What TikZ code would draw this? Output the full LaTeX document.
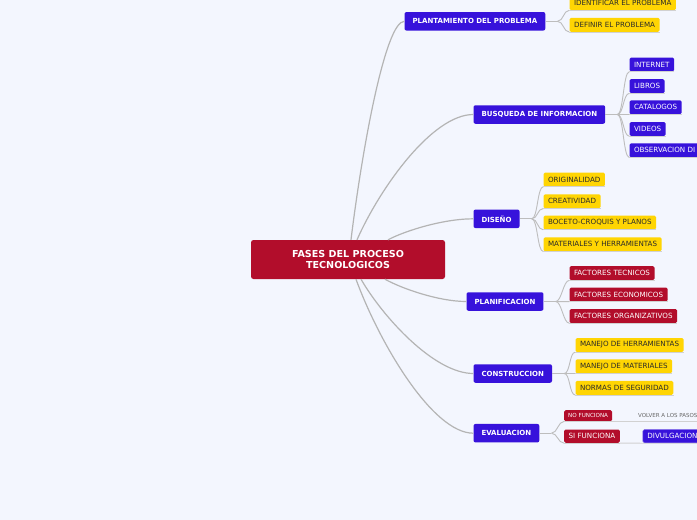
\documentclass[tikz,border=0pt]{standalone}
\usepackage{fontspec}
\setmainfont{DejaVu Sans}
\definecolor{bg}{HTML}{F3F6FE}
\definecolor{rootred}{HTML}{B20D2B}
\definecolor{purp}{HTML}{3712DB}
\definecolor{yel}{HTML}{FFD503}
\definecolor{conn}{HTML}{BDBDBD}
\definecolor{dark}{HTML}{2A2A2A}
\begin{document}
\begin{tikzpicture}[x=1pt,y=-1pt,
  rootbox/.style={rectangle, rounded corners=2.5pt, fill=rootred, text=white,
    font=\fontsize{9.6}{11}\selectfont\bfseries, align=center,
    minimum width=194pt, minimum height=39pt, inner sep=0pt},
  mainbox/.style={rectangle, rounded corners=2pt, fill=purp, text=white, anchor=west,
    font=\fontsize{7}{8}\selectfont\bfseries, minimum height=18.5pt, inner xsep=8pt, inner ysep=0pt},
  leaf/.style={rectangle, rounded corners=1.5pt, anchor=west, minimum height=14pt,
    inner xsep=4.5pt, inner ysep=0pt, font=\fontsize{7.15}{8}\selectfont},
  yleaf/.style={leaf, fill=yel, text=dark},
  pleaf/.style={leaf, fill=purp, text=white},
  rleaf/.style={leaf, fill=rootred, text=white},
  wire/.style={draw=conn, line width=0.9pt},
  rootwire/.style={draw=conn!95!black, line width=1.2pt},
  under/.style={draw=conn!70, line width=0.8pt}
]
\useasboundingbox (0,0) rectangle (697,520);
\clip (0,0) rectangle (697,520);
\fill[bg] (0,0) rectangle (697,520);

% root
\node[rootbox] (root) at (348,259.5) {FASES DEL PROCESO\\TECNOLOGICOS};

% main nodes
\node[mainbox] (plan) at (404.3,21.3) {PLANTAMIENTO DEL PROBLEMA};
\node[mainbox] (busq) at (473.3,114.5) {BUSQUEDA DE INFORMACION};
\node[mainbox] (dis) at (473.3,218.8) {DISEÑO};
\node[mainbox] (planif) at (466.3,301.5) {PLANIFICACION};
\node[mainbox] (cons) at (473.3,373.5) {CONSTRUCCION};
\node[mainbox] (eval) at (473.3,433.2) {EVALUACION};

% root connectors
\draw[rootwire] ([xshift=3pt]root.north) .. controls +(11,-90) and +(-19,0) .. (plan.west);
\draw[rootwire] ([xshift=9pt]root.north) .. controls +(23,-52) and +(-41,0) .. (busq.west);
\draw[rootwire] ([xshift=40pt]root.north) .. controls +(17,-9) and +(-30,0) .. (dis.west);
\draw[rootwire] ([xshift=37pt]root.south) .. controls +(16,9) and +(-28,0) .. (planif.west);
\draw[rootwire] ([xshift=13pt]root.south) .. controls +(22,38) and +(-39,0) .. (cons.west);
\draw[rootwire] ([xshift=8pt]root.south) .. controls +(23,63) and +(-41,0) .. (eval.west);

% leaves
\node[yleaf] (ident) at (569.3,3.1) {IDENTIFICAR EL PROBLEMA};
\node[yleaf] (defin) at (569.3,24.8) {DEFINIR EL PROBLEMA};

\node[pleaf] (inter) at (629.3,64.5) {INTERNET};
\node[pleaf] (libros) at (629.3,86.2) {LIBROS};
\node[pleaf] (catal) at (629.3,107.3) {CATALOGOS};
\node[pleaf] (videos) at (629.3,129) {VIDEOS};
\node[pleaf] (obser) at (629.3,150.3) {OBSERVACION DI};

\node[yleaf] (orig) at (543.3,179.5) {ORIGINALIDAD};
\node[yleaf] (creat) at (543.3,201.3) {CREATIVIDAD};
\node[yleaf] (boceto) at (543.3,222.6) {BOCETO-CROQUIS Y PLANOS};
\node[yleaf] (mater) at (543.3,244.3) {MATERIALES Y HERRAMIENTAS};

\node[rleaf] (ftec) at (569.3,273.2) {FACTORES TECNICOS};
\node[rleaf] (feco) at (569.3,294.5) {FACTORES ECONOMICOS};
\node[rleaf] (forg) at (569.3,316) {FACTORES ORGANIZATIVOS};

\node[yleaf] (mherr) at (575.3,345) {MANEJO DE HERRAMIENTAS};
\node[yleaf] (mmat) at (575.3,366.3) {MANEJO DE MATERIALES};
\node[yleaf] (normas) at (575.3,387.8) {NORMAS DE SEGURIDAD};

\node[rleaf, minimum height=11pt, inner xsep=4pt, font=\fontsize{5.6}{6.5}\selectfont] (nofun) at (564,415.7) {NO FUNCIONA};
\node[rleaf, minimum height=13.4pt] (sifun) at (564,436.2) {SI FUNCIONA};
\node[anchor=base west, inner sep=0pt, text=black!60, font=\fontsize{5.5}{6}\selectfont] (volver) at (638,417.5) {VOLVER A LOS PASOS};
\node[pleaf, minimum height=13.4pt, draw=purp!70!white, line width=0.5pt] (divul) at (642.7,436.2) {DIVULGACION};

% branches
\foreach \m/\list in {plan/{ident,defin}, busq/{inter,libros,catal,videos,obser},
    dis/{orig,creat,boceto,mater}, planif/{ftec,feco,forg}, cons/{mherr,mmat,normas},
    eval/{nofun,sifun}}{
  \draw[wire] (\m.east) -- ++(12,0) coordinate (bp-\m);
  \foreach \l in \list {
    \draw[wire] (bp-\m) .. controls +(6,0) and +(-6,0) .. (\l.south west);
    \draw[under] (\l.south west) -- (\l.south east);
  }
}
\draw[under] (nofun.south east) -- (volver.south west |- nofun.south) -- (volver.south east |- nofun.south);
\draw[under] (sifun.south east) -- (divul.south west) -- (divul.south east);
\end{tikzpicture}
\end{document}
